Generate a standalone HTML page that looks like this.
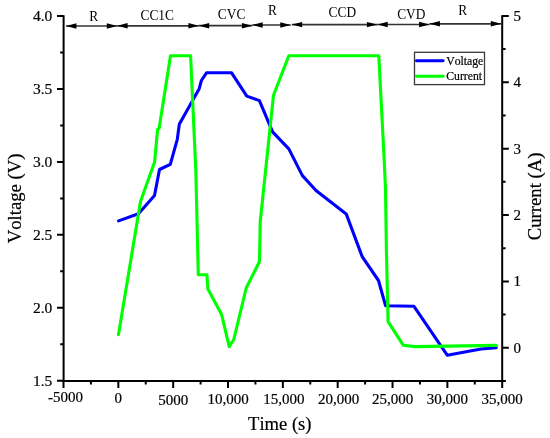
<!DOCTYPE html>
<html><head><meta charset="utf-8"><style>
html,body{margin:0;padding:0;background:#fff;}
svg{display:block;}
text{font-family:"Liberation Serif","Times New Roman",serif;fill:#000;font-kerning:none;stroke:#000;stroke-width:0.2px;}
</style></head><body>
<svg width="550" height="438" viewBox="0 0 550 438">
<rect width="550" height="438" fill="#fff"/>
<path d="M63.6 15.2V381.9M62.6 380.9H505.7M502.2 15.2V381.9" stroke="#000" stroke-width="2.0" fill="none"/>
<path d="M63.6 380.70H57.0M63.6 344.24H60.2M63.6 307.78H57.0M63.6 271.32H60.2M63.6 234.86H57.0M63.6 198.40H60.2M63.6 161.94H57.0M63.6 125.48H60.2M63.6 89.02H57.0M63.6 52.56H60.2M63.6 16.10H57.0M502.2 380.99H505.59999999999997M502.2 347.80H508.8M502.2 314.61H505.59999999999997M502.2 281.42H508.8M502.2 248.23H505.59999999999997M502.2 215.04H508.8M502.2 181.85H505.59999999999997M502.2 148.66H508.8M502.2 115.47H505.59999999999997M502.2 82.28H508.8M502.2 49.09H505.59999999999997M502.2 15.90H508.8M63.50 380.9V388.09999999999997M90.92 380.9V384.4M118.34 380.9V388.09999999999997M145.76 380.9V384.4M173.18 380.9V388.09999999999997M200.60 380.9V384.4M228.01 380.9V388.09999999999997M255.43 380.9V384.4M282.85 380.9V388.09999999999997M310.27 380.9V384.4M337.69 380.9V388.09999999999997M365.11 380.9V384.4M392.53 380.9V388.09999999999997M419.95 380.9V384.4M447.37 380.9V388.09999999999997M474.78 380.9V384.4M502.20 380.9V388.09999999999997" stroke="#000" stroke-width="2.0" fill="none"/>
<g font-size="15"><text x="52.3" y="385.6" text-anchor="end" font-size="15.5">1.5</text><text x="52.3" y="312.7" text-anchor="end" font-size="15.5">2.0</text><text x="52.3" y="239.8" text-anchor="end" font-size="15.5">2.5</text><text x="52.3" y="166.8" text-anchor="end" font-size="15.5">3.0</text><text x="52.3" y="93.9" text-anchor="end" font-size="15.5">3.5</text><text x="52.3" y="21.0" text-anchor="end" font-size="15.5">4.0</text><text x="513.6" y="352.7">0</text><text x="513.6" y="286.3">1</text><text x="513.6" y="219.9">2</text><text x="513.6" y="153.6">3</text><text x="513.6" y="87.2">4</text><text x="513.6" y="20.8">5</text><text x="65.4" y="402.4" text-anchor="middle">-5000</text><text x="118.3" y="402.9" text-anchor="middle">0</text><text x="173.2" y="405.2" text-anchor="middle">5000</text><text x="228.0" y="404.3" text-anchor="middle">10,000</text><text x="283.8" y="404.3" text-anchor="middle">15,000</text><text x="338.7" y="404.3" text-anchor="middle">20,000</text><text x="392.5" y="404.1" text-anchor="middle">25,000</text><text x="447.4" y="404.4" text-anchor="middle">30,000</text><text x="502.2" y="404.4" text-anchor="middle">35,000</text></g>
<text x="279.8" y="429.6" font-size="18.6" text-anchor="middle">Time (s)</text>
<text transform="translate(20.9 198.4) rotate(-90)" font-size="18.7" text-anchor="middle">Voltage (V)</text>
<text transform="translate(540.8 196.4) rotate(-90)" font-size="18.7" text-anchor="middle">Current (A)</text>
<polyline points="118.6,220.9 138.5,213.8 154.5,195.5 159.5,169.5 170.3,164.3 177.3,139.3 179.3,124.3 199.2,88.7 201.4,80.5 206.5,72.8 231.6,72.8 246.8,96.1 259.4,100.6 272.6,131.9 288.8,148.9 302.4,175.6 316.0,190.5 346.2,213.9 362.2,256.7 378.5,280.5 385.6,305.8 414.0,306.3 447.2,355.2 481.0,349.0 496.2,347.6" fill="none" stroke="#0000ff" stroke-width="3.1" stroke-linejoin="round" stroke-linecap="round"/>
<polyline points="118.5,334.6 140.5,201.5 154.6,162.0 157.6,129.3 159.1,128.6 170.5,55.8 190.6,55.8 195.8,170.0 198.3,274.7 206.9,274.7 207.9,289.1 221.6,314.5 229.2,346.6 233.8,339.5 246.2,288.0 259.5,261.5 260.2,222.0 273.5,95.2 288.8,55.8 378.8,55.8 383.7,150.0 385.5,188.8 386.4,250.0 388.1,321.6 403.2,345.2 415.0,346.6 496.2,345.4" fill="none" stroke="#00ff00" stroke-width="3.1" stroke-linejoin="round" stroke-linecap="round"/>
<rect x="414.5" y="52.3" width="70" height="32.3" fill="#fff" stroke="#3a3a3a" stroke-width="1.3"/>
<path d="M416.4 60.8H443.2" stroke="#0000ff" stroke-width="2.9" stroke-linecap="round"/>
<path d="M416.4 76.2H443.2" stroke="#00ff00" stroke-width="2.9" stroke-linecap="round"/>
<text x="446.3" y="64.9" font-size="11.7">Voltage</text>
<text x="446.3" y="80.0" font-size="11.7">Current</text>
<path d="M66.0 26.0H117.2" stroke="#333" stroke-width="1.7"/>
<text transform="translate(93.8 21.3) scale(1 1.06)" font-size="13.4" text-anchor="middle" style="stroke:none">R</text>
<path d="M117.2 25.8H198.8" stroke="#333" stroke-width="1.7"/>
<text transform="translate(157.2 20.2) scale(1 1.06)" font-size="13.4" text-anchor="middle" style="stroke:none">CC1C</text>
<path d="M198.8 25.7H252.3" stroke="#333" stroke-width="1.7"/>
<text transform="translate(231.6 19.4) scale(1 1.06)" font-size="13.4" text-anchor="middle" style="stroke:none">CVC</text>
<path d="M252.3 25.0H290.7" stroke="#333" stroke-width="1.7"/>
<text transform="translate(272.4 14.6) scale(1 1.06)" font-size="13.4" text-anchor="middle" style="stroke:none">R</text>
<path d="M291.8 24.6H377.3" stroke="#333" stroke-width="1.7"/>
<text transform="translate(342.3 16.7) scale(1 1.06)" font-size="13.4" text-anchor="middle" style="stroke:none">CCD</text>
<path d="M377.3 24.5H429.5" stroke="#333" stroke-width="1.7"/>
<text transform="translate(411.3 18.9) scale(1 1.06)" font-size="13.4" text-anchor="middle" style="stroke:none">CVD</text>
<path d="M429.5 23.8H501.2" stroke="#333" stroke-width="1.7"/>
<text transform="translate(462.8 15.0) scale(1 1.06)" font-size="13.4" text-anchor="middle" style="stroke:none">R</text>
<path d="M66.0 26.0L76.4 23.3V28.7ZM117.2 26.0L106.8 23.3V28.7ZM117.2 25.8L127.6 23.1V28.5ZM198.8 25.8L188.4 23.1V28.5ZM198.8 25.7L209.2 23.0V28.4ZM252.3 25.7L241.9 23.0V28.4ZM252.3 25.0L262.7 22.3V27.7ZM290.7 25.0L280.3 22.3V27.7ZM291.8 24.6L302.2 21.9V27.3ZM377.3 24.6L366.9 21.9V27.3ZM377.3 24.5L387.7 21.8V27.2ZM429.5 24.5L419.1 21.8V27.2ZM429.5 23.8L439.9 21.1V26.5ZM501.2 23.8L490.8 21.1V26.5Z" fill="#000"/>
</svg>
</body></html>
